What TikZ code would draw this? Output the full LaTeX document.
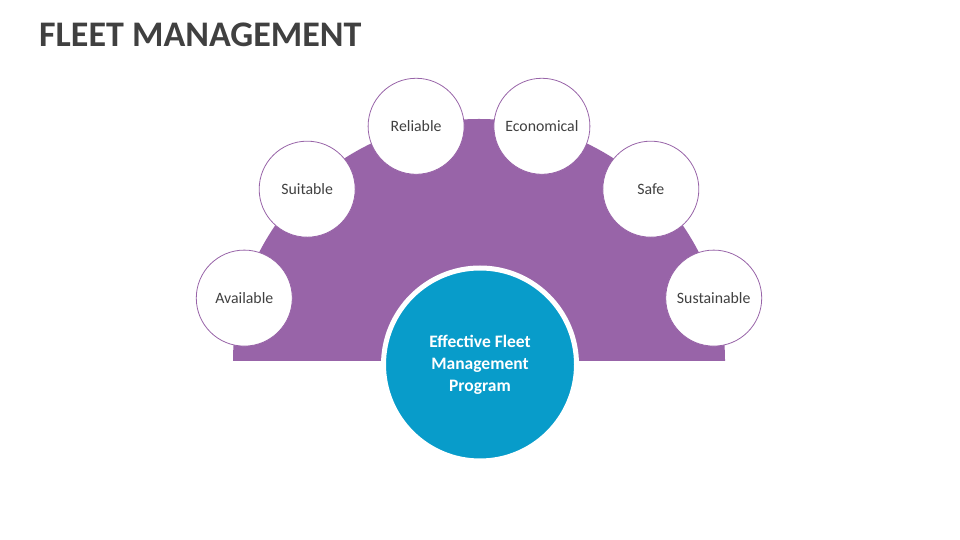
\documentclass[tikz,border=0pt]{standalone}
\usepackage{fontspec}
\setmainfont{Carlito}
\usetikzlibrary{calc}
\definecolor{fmpurple}{RGB}{152, 100, 168}
\definecolor{fmblue}{RGB}{8, 156, 202}
\definecolor{fmgray}{RGB}{64, 64, 64}

\begin{document}
\begin{tikzpicture}[x=1pt, y=1pt,
    quality/.style={draw=fmpurple, line width=0.8pt, circle, fill=white, minimum size=96pt, inner sep=0pt, text=fmgray, font=\fontsize{15.8}{18}\selectfont},
    program/.style={circle, fill=fmblue, draw=white, line width=5pt, minimum size=193pt, inner sep=0pt, text=white, align=center, font=\fontsize{17.5}{22}\selectfont\bfseries}]
    \useasboundingbox (0,0) rectangle (960,540);
    % title
    \node[anchor=base west, inner sep=0pt, text=fmgray, font=\fontsize{36}{40}\selectfont\bfseries] (title) at (39,493) {FLEET MANAGEMENT};

    % half disc behind everything
    \coordinate (hub) at (479,179);
    \fill[fmpurple] (hub) ++(246,0) arc[start angle=0, end angle=180, x radius=246, y radius=242] -- cycle;

    \node[program] (prog) at (480,175.5) {Effective Fleet\\Management\\Program};

    \node[quality] (available) at ($(hub)+(165:243)$) {Available};
    \node[quality] (suitable) at ($(hub)+(135:243)$) {Suitable};
    \node[quality] (reliable) at ($(hub)+(105:243)$) {Reliable};
    \node[quality] (economical) at ($(hub)+(75:243)$) {Economical};
    \node[quality] (safe) at ($(hub)+(45:243)$) {Safe};
    \node[quality] (sustainable) at ($(hub)+(15:243)$) {Sustainable};
\end{tikzpicture}
\end{document}
